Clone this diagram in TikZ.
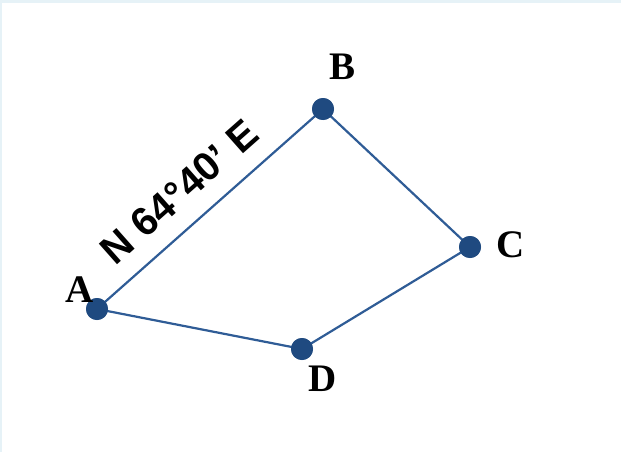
\documentclass[tikz,border=0pt]{standalone}
\usepackage{fontspec}
\setmainfont{Liberation Serif}
\newfontfamily\bearingfont{Liberation Sans}
\definecolor{edgeblue}{HTML}{2F5C96}
\definecolor{dotblue}{HTML}{1F4A80}
\definecolor{frameblue}{HTML}{E6F2F7}
\begin{document}
\begin{tikzpicture}[x=1pt,y=-1pt,
  pt/.style={circle,fill=dotblue,inner sep=0pt,minimum size=22pt},
  edge/.style={draw=edgeblue,line width=2.2pt},
  lbl/.style={font=\fontsize{39}{41}\selectfont\bfseries,inner sep=0pt},
  bearing/.style={font=\bearingfont\fontsize{40}{42}\selectfont\bfseries,inner sep=0pt}]
\useasboundingbox (0,0) rectangle (621,452);
\fill[white] (0,0) rectangle (621,452);
\fill[frameblue] (0,0) rectangle (621,3.5);
\fill[frameblue] (0,0) rectangle (1.5,452);
\node[pt] (A) at (97,309) {};
\node[pt] (B) at (323,109) {};
\node[pt] (C) at (470,247) {};
\node[pt] (D) at (302,349) {};
\draw[edge] (A.center) -- (B.center) -- (C.center) -- (D.center) -- (A.center);
\node[pt] at (A) {};
\node[pt] at (B) {};
\node[pt] at (C) {};
\node[pt] at (D) {};
\node[lbl] (la) at (80,290) {A};
\node[lbl] (lb) at (343,67) {B};
\node[lbl] (lc) at (511,245) {C};
\node[lbl] (ld) at (323,379) {D};
\node[bearing,rotate=41.5,anchor=base] (lab) at (188.5,202) {N 64°40’ E};
\end{tikzpicture}
\end{document}
